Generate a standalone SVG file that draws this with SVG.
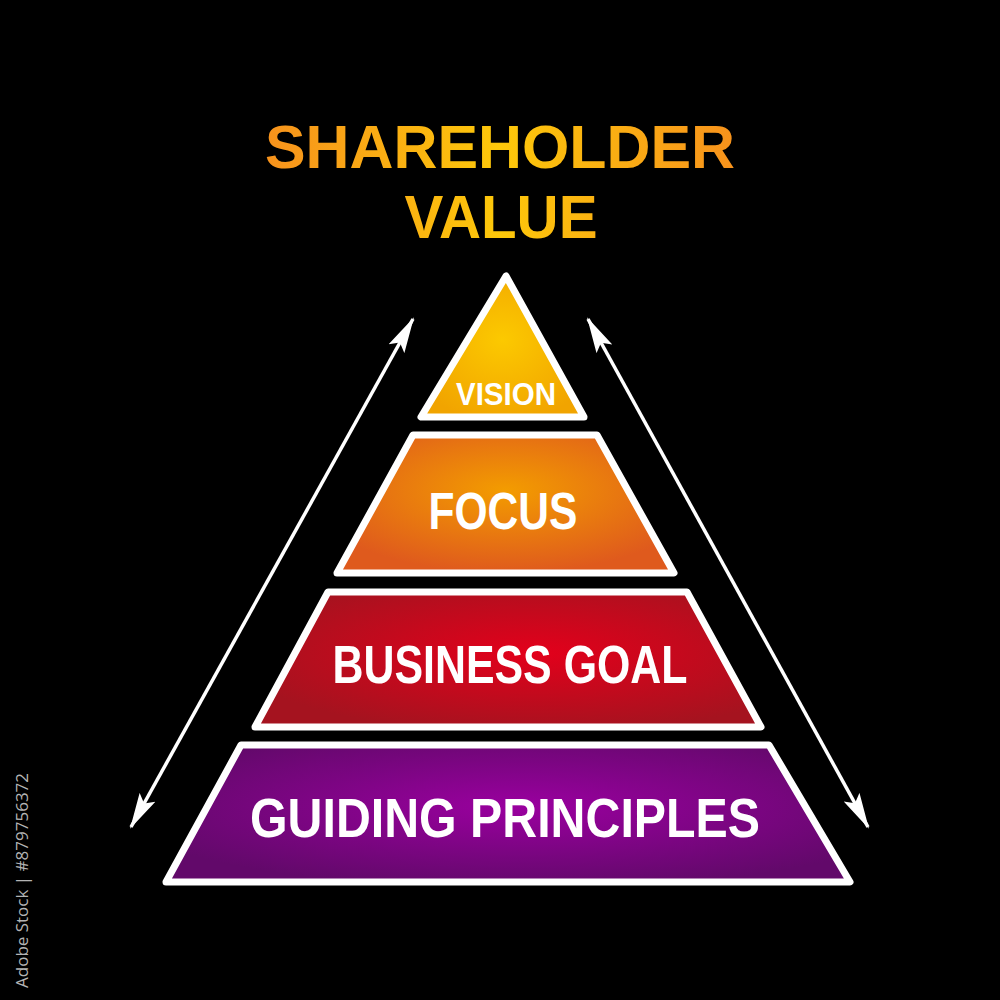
<svg xmlns="http://www.w3.org/2000/svg" width="1000" height="1000" viewBox="0 0 1000 1000">
  <defs>
    <style>
      .tier { stroke: #ffffff; stroke-width: 7; stroke-linejoin: round; }
      .label { font-family: "Liberation Sans", Arial, sans-serif; font-weight: bold; fill: #ffffff; text-anchor: middle; }
      .title { font-family: "Liberation Sans", Arial, sans-serif; font-weight: bold; fill: url(#titleGrad); text-anchor: middle; }
      .arrow { stroke: #ffffff; stroke-width: 3.5; fill: none; marker-start: url(#head); marker-end: url(#head); }
      .credit { font-family: "Open Sans", "Liberation Sans", sans-serif; font-size: 17px; fill: #b4b4b4; }
    </style>
    <linearGradient id="titleGrad" x1="265" y1="0" x2="735" y2="0" gradientUnits="userSpaceOnUse">
      <stop offset="0" stop-color="#f7921c"/>
      <stop offset="0.5" stop-color="#fdc80a"/>
      <stop offset="1" stop-color="#f7921c"/>
    </linearGradient>
    <radialGradient id="gVision" cx="0.5" cy="0.45" r="0.6">
      <stop offset="0" stop-color="#fcc900"/>
      <stop offset="1" stop-color="#f1a400"/>
    </radialGradient>
    <radialGradient id="gFocus" cx="0.5" cy="0.4" r="0.6">
      <stop offset="0" stop-color="#f39c00"/>
      <stop offset="1" stop-color="#df5a1d"/>
    </radialGradient>
    <radialGradient id="gBiz" cx="0.55" cy="0.45" r="0.6">
      <stop offset="0" stop-color="#e3001b"/>
      <stop offset="1" stop-color="#a5131f"/>
    </radialGradient>
    <radialGradient id="gGuide" cx="0.52" cy="0.45" r="0.6">
      <stop offset="0" stop-color="#9a009f"/>
      <stop offset="1" stop-color="#62096a"/>
    </radialGradient>
    <marker id="head" viewBox="0 0 36 20" refX="34" refY="10" markerWidth="36" markerHeight="20" markerUnits="userSpaceOnUse" orient="auto-start-reverse">
      <path d="M0,1 L36,10 L0,19 L7,10 Z" fill="#ffffff"/>
    </marker>
  </defs>

  <rect x="0" y="0" width="1000" height="1000" fill="#000000"/>

  <g id="title">
    <text class="title" x="500" y="168" font-size="62" textLength="470" lengthAdjust="spacingAndGlyphs">SHAREHOLDER</text>
    <text class="title" x="501" y="238" font-size="62" textLength="193" lengthAdjust="spacingAndGlyphs">VALUE</text>
  </g>

  <g id="connectors">
    <line class="arrow" x1="413" y1="319" x2="131" y2="827"/>
    <line class="arrow" x1="588" y1="319" x2="868" y2="827"/>
  </g>

  <g id="tier-vision">
    <polygon class="tier" fill="url(#gVision)" points="506,276 421,417 584,417"/>
    <text class="label" x="506" y="405" font-size="32" textLength="100" lengthAdjust="spacingAndGlyphs">VISION</text>
  </g>

  <g id="tier-focus">
    <polygon class="tier" fill="url(#gFocus)" points="413,435 597,435 674,573 337,573"/>
    <text class="label" x="503" y="529" font-size="52" textLength="149" lengthAdjust="spacingAndGlyphs">FOCUS</text>
  </g>

  <g id="tier-business-goal">
    <polygon class="tier" fill="url(#gBiz)" points="328,592 687,592 761,727 255,727"/>
    <text class="label" x="510" y="683" font-size="54" textLength="355" lengthAdjust="spacingAndGlyphs">BUSINESS GOAL</text>
  </g>

  <g id="tier-guiding-principles">
    <polygon class="tier" fill="url(#gGuide)" points="241,745 769,745 850,882 166,882"/>
    <text class="label" x="505" y="837" font-size="56" textLength="510" lengthAdjust="spacingAndGlyphs">GUIDING PRINCIPLES</text>
  </g>

  <text class="credit" transform="translate(28,988) rotate(-90)">Adobe Stock | #879756372</text>
</svg>
